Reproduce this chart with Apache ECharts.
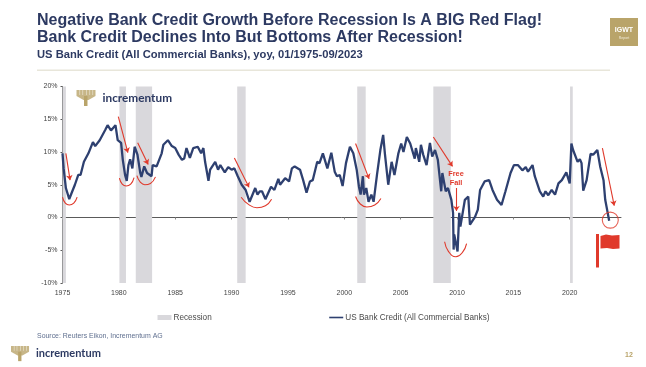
<!DOCTYPE html>
<html>
<head>
<meta charset="utf-8">
<script src="https://cdn.jsdelivr.net/npm/echarts@6/dist/echarts.min.js"></script>
<style>html,body{margin:0;padding:0;background:#fff}#main{width:646px;height:367px}</style>
</head>
<body>
<div id="main"></div>
<script>
var titleLines = ['Negative Bank Credit Growth Before Recession Is A BIG Red Flag!', 'Bank Credit Declines Into But Bottoms After Recession!'];
var subTitle = 'US Bank Credit (All Commercial Banks), yoy, 01/1975-09/2023';
var sourceText = 'Source: Reuters Eikon, Incrementum AG';
var creditName = 'US Bank Credit (All Commercial Banks)';
var recessionName = 'Recession';

// decimal year, yoy %
var creditYears = [1975,1975.1,1975.3,1975.6,1975.8,1976.1,1976.4,1976.6,1976.9,1977.3,1977.7,1977.9,1978.3,1978.8,1979,1979.3,1979.7,1979.9,1980.2,1980.35,1980.55,1980.7,1980.85,1981,1981.2,1981.4,1981.65,1981.9,1982,1982.25,1982.5,1982.9,1983,1983.35,1983.8,1983.95,1984.35,1984.7,1985,1985.3,1985.6,1985.8,1986,1986.3,1986.6,1987,1987.3,1987.5,1987.65,1987.8,1987.95,1988.1,1988.25,1988.55,1988.8,1989,1989.4,1989.7,1990,1990.25,1990.55,1990.9,1991.25,1991.6,1992.1,1992.3,1992.5,1992.7,1993,1993.5,1993.8,1994.15,1994.3,1994.75,1995.1,1995.35,1995.6,1996.07,1996.35,1996.65,1996.95,1997.2,1997.6,1997.8,1998.1,1998.5,1998.85,1999.15,1999.35,1999.6,1999.85,2000.15,2000.5,2000.8,2001.1,2001.3,2001.45,2001.65,2001.75,2001.95,2002.15,2002.4,2002.6,2002.9,2003.2,2003.45,2003.6,2003.9,2004.2,2004.45,2004.8,2005.05,2005.25,2005.55,2005.85,2006.25,2006.35,2006.65,2006.8,2007,2007.3,2007.6,2007.8,2008.05,2008.3,2008.6,2008.7,2009,2009.2,2009.5,2009.65,2009.7,2009.75,2009.9,2010.05,2010.2,2010.3,2010.7,2011,2011.15,2011.6,2011.85,2012.05,2012.45,2012.85,2013.15,2013.55,2013.95,2014.3,2014.75,2015.05,2015.4,2015.8,2016.1,2016.3,2016.7,2016.9,2017.35,2017.65,2017.85,2018.1,2018.4,2018.7,2019,2019.3,2019.7,2020,2020.15,2020.3,2020.45,2020.7,2020.9,2021.05,2021.2,2021.5,2021.85,2022.1,2022.45,2022.7,2023,2023.15,2023.35,2023.5];
var creditValues = [9.8,7.5,4.5,2.8,3.7,5,6.5,6.5,8.5,9.8,11.5,10.9,11.8,13.4,14.1,13.3,14.1,11.8,11.4,8.8,6.5,5.6,8,8.9,7.5,10.8,9.6,6.8,6.2,7.8,6.8,6.3,8,7.8,9.8,11.1,11.8,10.9,10.6,9.6,8.8,9,10.6,9.1,10.6,10.8,9.8,10.6,8.5,8.3,5.6,7.3,7,8.5,7.3,8,6.9,7.7,7.3,7.5,6.3,5,4.2,2.4,4.5,3.5,4,4,2.8,4.7,4.2,5.9,5,6,5.5,7.5,7.8,7.3,5.7,3.8,5.5,5.7,8.5,8.3,9.8,7.5,9.9,7,6.3,6.5,4.8,8.3,10.8,9.8,7.3,4.7,3.5,6.3,3.5,4.5,2.4,3.5,2.4,6.5,10.3,12.6,9.8,5,8.5,6.5,9.8,11.3,10,12.3,11.3,9,10.6,8.5,11.1,9.6,8,11.4,9.3,10.3,8.8,4,6.8,4,4.5,2.7,0.7,-4.9,-2.6,-2.6,-5.2,0.7,-1.4,2.7,3.2,-1.1,0.1,1.2,4.2,5.5,5.7,4.2,2.7,1.9,4,6.8,8,8,7.2,7.7,7,8,6.3,4,3.2,4,3.4,4.2,3.5,5.2,5.7,6.9,5.2,11.3,10.3,10.1,8.5,8.9,8.3,4.1,5.7,9.7,9.6,10.3,7.8,5.7,2.7,0.9,-0.5];

var recessionStart = [1975,1980.05,1981.5,1990.5,2001.15,2007.9,2020.03];
var recessionEnd = [1975.3,1980.63,1982.95,1991.25,2001.9,2009.45,2020.27];

var yearTicks = { min: 1975, max: 2024.55, step: 5 };
var valueTicks = { min: -10, max: 20, step: 5 };

// red annotations, in chart units: [year, value] pairs
var arrows = [
	[[1975.3,9.8],[1975.67,5.7]],
	[[1979.95,15.4],[1980.8,9.9]],
	[[1981.67,11.4],[1982.6,8.1]],
	[[1990.25,9.1],[1991.55,4.6]],
	[[2001,11.3],[2002.2,5.9]],
	[[2007.9,12.3],[2009.6,7.8]],
	[[2009.95,4.5],[2009.95,1]],
	[[2022.9,10.6],[2023.95,1.8]]
];
var arcs = [
	[[1975,3.1],[1975.25,2.2],[1975.6,1.9],[1976,2.2],[1976.3,3.1]],
	[[1980.05,6],[1980.3,5.1],[1980.65,4.8],[1981.05,5.1],[1981.35,6.1]],
	[[1981.6,6.4],[1981.9,5.4],[1982.3,5],[1982.8,5.2],[1983.25,6.2]],
	[[1990.85,3.1],[1991.5,2],[1992.25,1.5],[1993,1.8],[1993.55,2.8]],
	[[2001,3.2],[2001.4,2.1],[2002,1.6],[2002.7,1.9],[2003.25,2.9]],
	[[2008.9,-3.7],[2009.25,-5.2],[2009.9,-6],[2010.5,-5.3],[2010.85,-4]]
];
var flagPoint = [2023.6,-0.4];

var navy = '#2e4070', red = '#e0392b', gold = '#b9a46a', ink = '#2d3a62';

var buildOption = function() {
	var series = [];
	var creditData = creditYears.map(function(y, i) { return [y, creditValues[i]]; });
	var bands = recessionStart.map(function(s, i) { return [{ xAxis: s }, { xAxis: recessionEnd[i] }]; });

	series.push({
		name: recessionName, type: 'line', data: [], symbol: 'none',
		itemStyle: { color: '#d9d8dc' },
		markArea: { silent: true, itemStyle: { color: '#d9d8dc' }, data: bands }
	});
	series.push({
		name: creditName, type: 'line', data: creditData, symbol: 'none', z: 3,
		lineStyle: { color: navy, width: 2.3 }, itemStyle: { color: navy }
	});
	arrows.forEach(function(a) {
		series.push({
			type: 'line', data: [], symbol: 'none', silent: true, z: 4,
			markLine: {
				silent: true, animation: false,
				symbol: ['none', 'arrow'], symbolSize: 5,
				label: { show: false },
				lineStyle: { color: red, width: 1.1, type: 'solid' },
				data: [[{ coord: a[0] }, { coord: a[1] }]]
			}
		});
	});
	arcs.forEach(function(a) {
		series.push({
			type: 'line', data: a, symbol: 'none', smooth: true, silent: true, z: 4,
			lineStyle: { color: red, width: 1.1 }
		});
	});
	series.push({
		type: 'scatter', data: [flagPoint], symbol: 'circle', symbolSize: 16, silent: true, z: 4,
		itemStyle: { color: 'rgba(0,0,0,0)', borderColor: red, borderWidth: 1.1 }
	});

	return {
		animation: false,
		backgroundColor: '#fff',
		textStyle: { fontFamily: '"Liberation Sans"' },
		grid: { left: 62.5, right: 25, top: 86.5, bottom: 84 },
		legend: {
			left: 157.5, top: 313.5, padding: 0, itemGap: 117.5, itemWidth: 14, itemHeight: 5,
			selectedMode: false,
			textStyle: { fontSize: 8.2, color: '#4a4a4a', padding: [0, 0, 0, -3] },
			data: [
				{ name: recessionName, icon: 'rect' },
				{ name: creditName, icon: 'path://M0,0H14V1.6H0Z', itemStyle: { color: navy } }
			]
		},
		xAxis: {
			type: 'value', min: yearTicks.min, max: yearTicks.max, interval: yearTicks.step,
			splitLine: { show: false },
			axisLine: { onZero: true, lineStyle: { color: '#5a5a5a', width: 1 } },
			axisTick: { length: 2, lineStyle: { color: '#8a8a8a' } },
			axisLabel: {
				margin: 6.5, fontSize: 7, color: '#444',
				showMaxLabel: false,
				formatter: function(v) { return String(v); }
			}
		},
		yAxis: {
			type: 'value', min: valueTicks.min, max: valueTicks.max, interval: valueTicks.step,
			splitLine: { show: false },
			axisLine: { show: true, onZero: false, lineStyle: { color: '#5a5a5a', width: 1 } },
			axisTick: { show: true, length: 2, lineStyle: { color: '#5a5a5a' } },
			axisLabel: { margin: 5, fontSize: 7, color: '#444', formatter: '{value}%' }
		},
		graphic: buildGraphic(),
		series: series
	};
};

// small gold tree of the logo, x/y is its top left corner
var treeLogo = function(x, y, k) {
	var kids = [];
	kids.push({ type: 'rect', shape: { x: x + 7.5 * k, y: y + 7 * k, width: 3.5 * k, height: 10 * k }, style: { fill: gold } });
	kids.push({
		type: 'polygon',
		shape: { points: [[x, y + k], [x + 19 * k, y + k], [x + 19 * k, y + 7 * k], [x + 12 * k, y + 11 * k], [x + 7 * k, y + 11 * k], [x, y + 7 * k]] },
		style: { fill: gold, opacity: 0.8 }
	});
	[3, 6, 9.5, 13, 16].forEach(function(d) {
		kids.push({ type: 'rect', shape: { x: x + d * k, y: y + k, width: 0.6 * k, height: 5 * k }, style: { fill: '#fff', opacity: 0.7 } });
	});
	return kids;
};

var buildGraphic = function() {
	var g = [];
	var text = function(x, y, s, size, color, weight, font, align) {
		g.push({
			type: 'text', x: x, y: y, silent: true, z: 10,
			style: {
				text: s, fill: color, align: align || 'left', verticalAlign: 'middle',
				font: (weight || 'normal') + ' ' + size + 'px ' + (font || '"Liberation Sans"')
			}
		});
	};
	text(37, 20.5, titleLines[0], 16, ink, 'bold');
	text(37, 37.5, titleLines[1], 16, ink, 'bold');
	text(37, 55, subTitle, 11.2, ink, 'bold');
	g.push({ type: 'rect', shape: { x: 37, y: 69.5, width: 573, height: 1.5 }, style: { fill: '#e8e6da' } });

	g.push({ type: 'rect', shape: { x: 610, y: 18, width: 28, height: 28 }, style: { fill: gold } });
	text(624, 30.5, 'IGWT', 7, '#fff', 'bold', null, 'center');
	text(624, 38, 'Report', 3.5, '#f0ead8', 'normal', null, 'center');

	treeLogo(76.5, 89, 1).forEach(function(k) { g.push(k); });
	text(102.5, 98, 'incrementum', 11.8, ink, 'bold', 'Lato');
	treeLogo(11, 345, 0.95).forEach(function(k) { g.push(k); });
	text(36, 353.5, 'incrementum', 11, ink, 'bold', 'Lato');

	text(456, 174, 'Free', 7.3, red, 'bold', null, 'center');
	text(456, 182.5, 'Fall', 7.3, red, 'bold', null, 'center');

	// the flag
	g.push({ type: 'rect', shape: { x: 596, y: 234, width: 3, height: 33.5 }, style: { fill: red } });
	g.push({
		type: 'polygon', z: 10,
		shape: { points: [[600.5, 236], [606, 234.5], [612, 235.5], [619.5, 235], [619.5, 248.5], [613, 249], [607, 248], [600.5, 248.5]] },
		style: { fill: red }
	});

	text(37, 336.5, sourceText, 6.95, '#5f6f8f');
	text(629, 355, '12', 7, gold, 'bold', null, 'center');
	return g;
};

var myChart = echarts.init(document.getElementById('main'), null, { renderer: 'canvas' });
myChart.setOption(buildOption());
</script>
</body>
</html>
